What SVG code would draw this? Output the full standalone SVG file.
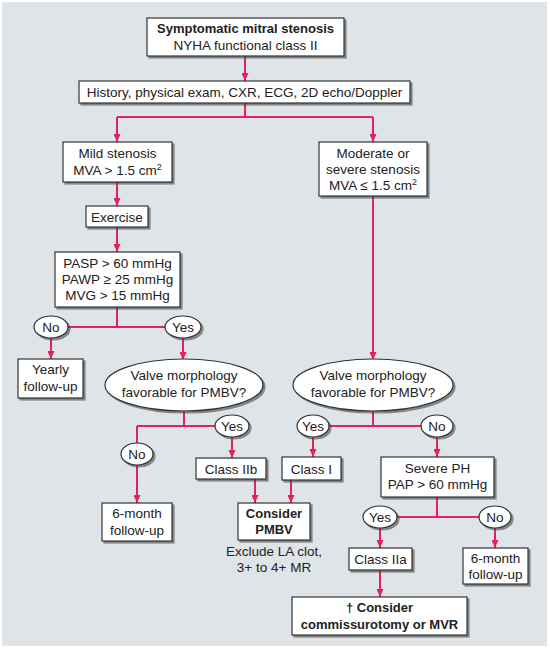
<svg xmlns="http://www.w3.org/2000/svg" width="550" height="649" viewBox="0 0 550 649">
<defs>
<filter id="sh" x="-10%" y="-10%" width="130%" height="140%">
<feDropShadow dx="2" dy="2" stdDeviation="0.7" flood-color="#444" flood-opacity="0.6"/>
</filter>
<marker id="ar" viewBox="0 0 8 7" refX="8" refY="3.5" markerWidth="8" markerHeight="7" markerUnits="userSpaceOnUse" orient="auto">
<path d="M0,0 L8,3.5 L0,7 z" fill="#e3225b"/>
</marker>
</defs>
<style>
.bx{fill:#fff;stroke:#333;stroke-width:1.2;filter:url(#sh)}
.t{font-family:"Liberation Sans",Arial,sans-serif;font-size:13.5px;fill:#222;text-anchor:middle}
.b{font-weight:bold;font-size:13px}
.c{fill:none;stroke:#e3225b;stroke-width:2}
.a{marker-end:url(#ar)}
</style>
<rect x="2" y="2" width="545" height="644" fill="#dfe4e8"/>
<g id="connectors">
<line class="c a" x1="245" y1="56" x2="245" y2="81"/>
<path class="c" d="M245,103 V117 M117,117 H373"/>
<line class="c a" x1="117" y1="117" x2="117" y2="142"/>
<line class="c a" x1="373" y1="117" x2="373" y2="142"/>
<line class="c a" x1="117" y1="182" x2="117" y2="206"/>
<line class="c a" x1="117" y1="227" x2="117" y2="252"/>
<path class="c" d="M117,307 V327 M51,327 H183"/>
<line class="c a" x1="51" y1="338" x2="51" y2="359"/>
<line class="c a" x1="183" y1="338" x2="183" y2="360"/>
<path class="c" d="M184,411 V426 M137,426 H232 M137,426 V454"/>
<line class="c a" x1="137" y1="465" x2="137" y2="503"/>
<line class="c a" x1="232" y1="437" x2="232" y2="458"/>
<line class="c a" x1="255" y1="479" x2="255" y2="503"/>
<line class="c a" x1="373" y1="196" x2="373" y2="360"/>
<path class="c" d="M373,411 V426 M313,426 H437"/>
<line class="c a" x1="313" y1="437" x2="313" y2="457"/>
<line class="c a" x1="437" y1="437" x2="437" y2="457"/>
<line class="c a" x1="291" y1="480" x2="291" y2="503"/>
<path class="c" d="M437,497 V517 M380,517 H495"/>
<line class="c a" x1="380" y1="528" x2="380" y2="548"/>
<line class="c a" x1="495" y1="528" x2="495" y2="548"/>
<line class="c a" x1="380" y1="570" x2="380" y2="597"/>
</g>
<g id="n-start"><rect class="bx" x="147" y="18" width="197" height="38"/><text class="t b" x="245.5" y="33">Symptomatic mitral stenosis</text><text class="t" x="245.5" y="50">NYHA functional class II</text></g>
<g id="n-history"><rect class="bx" x="79" y="81" width="331" height="22"/><text class="t" x="244.5" y="97">History, physical exam, CXR, ECG, 2D echo/Doppler</text></g>
<g id="n-mild"><rect class="bx" x="63" y="142" width="109" height="40"/><text class="t" x="117.5" y="158">Mild stenosis</text><text class="t" x="117.5" y="175">MVA &gt; 1.5 cm<tspan font-size="9" dy="-5">2</tspan></text></g>
<g id="n-moderate"><rect class="bx" x="319" y="142" width="108" height="54"/><text class="t" x="373" y="158">Moderate or</text><text class="t" x="373" y="174">severe stenosis</text><text class="t" x="373" y="190">MVA ≤ 1.5 cm<tspan font-size="9" dy="-5">2</tspan></text></g>
<g id="n-exercise"><rect class="bx" x="86" y="206" width="62" height="21"/><text class="t" x="117" y="221.5">Exercise</text></g>
<g id="n-pasp"><rect class="bx" x="55" y="252" width="125" height="55"/><text class="t" x="117.5" y="268">PASP &gt; 60 mmHg</text><text class="t" x="117.5" y="284">PAWP ≥ 25 mmHg</text><text class="t" x="117.5" y="300">MVG &gt; 15 mmHg</text></g>
<g id="n-no1"><ellipse class="bx" cx="51" cy="327" rx="17" ry="11"/><text class="t" x="51" y="331.5">No</text></g>
<g id="n-yes1"><ellipse class="bx" cx="183" cy="327" rx="18" ry="11"/><text class="t" x="183" y="331.5">Yes</text></g>
<g id="n-yearly"><rect class="bx" x="18" y="359" width="65" height="39"/><text class="t" x="50.5" y="374">Yearly</text><text class="t" x="50.5" y="391">follow-up</text></g>
<g id="n-valve1"><ellipse class="bx" cx="184" cy="385" rx="79" ry="26"/><text class="t" x="184" y="380">Valve morphology</text><text class="t" x="184" y="397">favorable for PMBV?</text></g>
<g id="n-yes2"><ellipse class="bx" cx="232" cy="426" rx="17" ry="11"/><text class="t" x="232" y="430.5">Yes</text></g>
<g id="n-no2"><ellipse class="bx" cx="137" cy="454" rx="16" ry="11"/><text class="t" x="137" y="458.5">No</text></g>
<g id="n-classIIb"><rect class="bx" x="196" y="458" width="70" height="21"/><text class="t" x="231" y="473.5">Class IIb</text></g>
<g id="n-6month1"><rect class="bx" x="102" y="503" width="70" height="38"/><text class="t" x="137" y="518">6-month</text><text class="t" x="137" y="535">follow-up</text></g>
<g id="n-pmbv"><rect class="bx" x="238" y="503" width="72" height="37"/><text class="t b" x="274" y="518">Consider</text><text class="t b" x="274" y="534">PMBV</text></g>
<g id="n-exclude"><text class="t" x="274" y="556">Exclude LA clot,</text><text class="t" x="274" y="572">3+ to 4+ MR</text></g>
<g id="n-valve2"><ellipse class="bx" cx="373" cy="385" rx="80" ry="26"/><text class="t" x="373" y="380">Valve morphology</text><text class="t" x="373" y="397">favorable for PMBV?</text></g>
<g id="n-yes3"><ellipse class="bx" cx="313" cy="426" rx="16" ry="11"/><text class="t" x="313" y="430.5">Yes</text></g>
<g id="n-no3"><ellipse class="bx" cx="437" cy="426" rx="16" ry="11"/><text class="t" x="437" y="430.5">No</text></g>
<g id="n-classI"><rect class="bx" x="282" y="457" width="59" height="23"/><text class="t" x="311.5" y="473.5">Class I</text></g>
<g id="n-severe"><rect class="bx" x="381" y="457" width="113" height="40"/><text class="t" x="437.5" y="473">Severe PH</text><text class="t" x="437.5" y="489">PAP &gt; 60 mmHg</text></g>
<g id="n-yes4"><ellipse class="bx" cx="380" cy="517" rx="17" ry="11"/><text class="t" x="380" y="521.5">Yes</text></g>
<g id="n-no4"><ellipse class="bx" cx="495" cy="517" rx="16" ry="11"/><text class="t" x="495" y="521.5">No</text></g>
<g id="n-classIIa"><rect class="bx" x="349" y="548" width="63" height="22"/><text class="t" x="380.5" y="564">Class IIa</text></g>
<g id="n-6month2"><rect class="bx" x="463" y="548" width="65" height="36"/><text class="t" x="495.5" y="563">6-month</text><text class="t" x="495.5" y="579">follow-up</text></g>
<g id="n-mvr"><rect class="bx" x="292" y="597" width="175" height="38"/><text class="t b" x="379.5" y="612">† Consider</text><text class="t b" x="379.5" y="629">commissurotomy or MVR</text></g>
</svg>
